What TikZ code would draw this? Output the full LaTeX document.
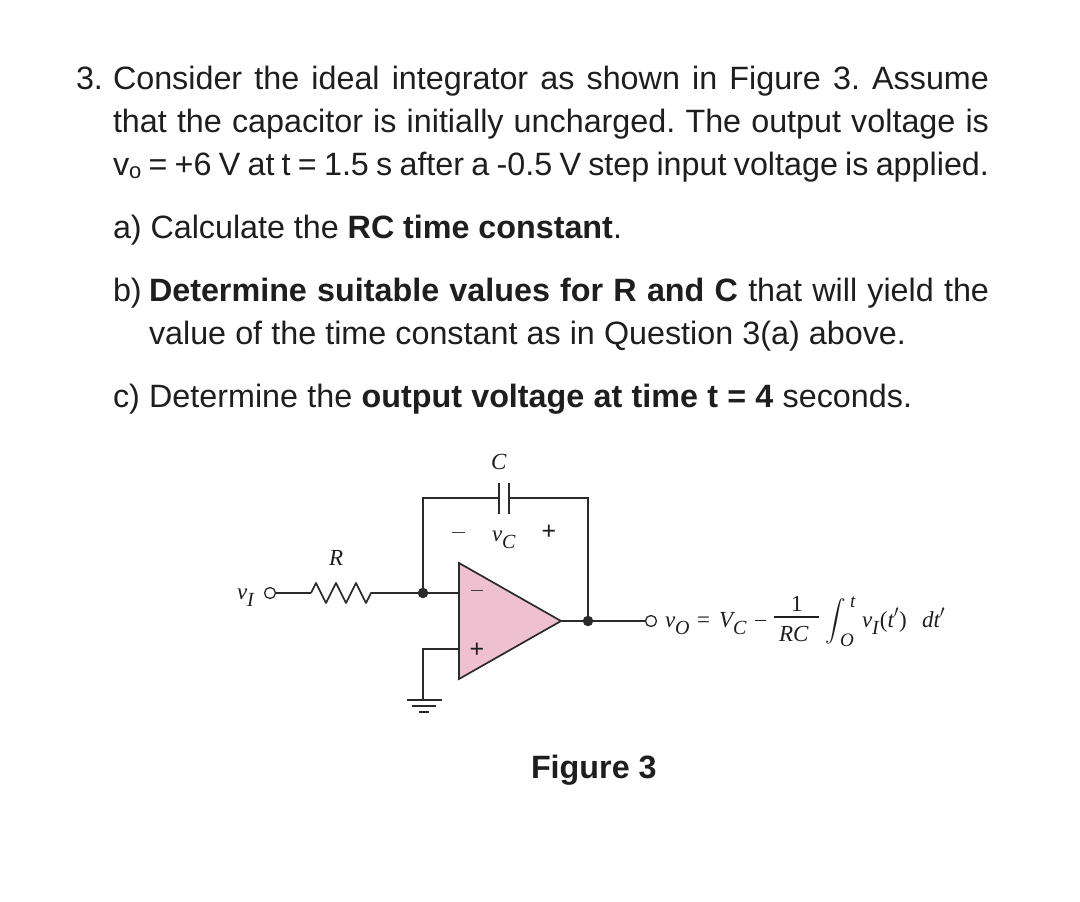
\documentclass[tikz,border=0pt]{standalone}
\usepackage{fontspec}
\setmainfont{Liberation Sans}
\newfontfamily\ser{Liberation Serif}
\definecolor{ink}{HTML}{1E1E1E}
\definecolor{wire}{HTML}{2A2A2A}
\definecolor{pinkfill}{HTML}{EFC1D0}
\newcommand{\lin}[2]{\makebox[#1][s]{#2}}
\newcommand{\sbs}[1]{\raisebox{-0.32em}{\fontsize{20}{22}\selectfont #1}}
\tikzset{
  x=1pt,y=-1pt,
  para/.style={anchor=base west,inner sep=0pt,outer sep=0pt,text=ink,font=\fontsize{32.3}{36}\selectfont\frenchspacing},
  lab/.style={anchor=base west,inner sep=0pt,outer sep=0pt,text=ink,font=\ser\itshape\fontsize{23}{26}\selectfont},
  upr/.style={anchor=base west,inner sep=0pt,outer sep=0pt,text=ink,font=\ser\fontsize{23}{26}\selectfont},
  conn/.style={draw=wire,line width=1.7pt,line join=miter},
  dotn/.style={circle,fill=wire,draw=none,minimum size=10.5pt,inner sep=0pt},
  term/.style={circle,fill=white,draw=wire,line width=1.3pt,minimum size=11pt,inner sep=0pt},
  sign/.style={inner sep=0pt,text=ink,font=\fontsize{25}{27}\selectfont}
}
\begin{document}
\begin{tikzpicture}
\useasboundingbox[fill=white] (0,0) rectangle (1080,902);
% text
\node[para] (num) at (76,89) {3.};
\node[para] (l1) at (113,89) {\lin{876pt}{Consider the ideal integrator as shown in Figure 3. Assume}};
\node[para] (l2) at (113,132) {\lin{876pt}{that the capacitor is initially uncharged. The output voltage is}};
\node[para] (l3) at (113,175) {\lin{876pt}{v\raisebox{-0.12em}{\fontsize{22}{24}\selectfont o} = +6 V at t = 1.5 s after a -0.5 V step input voltage is applied.}};
\node[para] (a) at (113,238) {\lin{509pt}{a) Calculate the \textbf{RC time constant}.}};
\node[para] (b) at (113,301) {b)};
\node[para] (b1) at (149,301) {\lin{840pt}{\textbf{Determine suitable values for R and C} that will yield the}};
\node[para] (b2) at (149,344) {\lin{757pt}{value of the time constant as in Question 3(a) above.}};
\node[para] (c) at (113,407) {\lin{799pt}{c) Determine the \textbf{output voltage at time t = 4} seconds.}};
\node[para] (fig) at (531,778) {\textbf{Figure 3}};
% op-amp
\coordinate (tl) at (459,563);
\coordinate (bl) at (459,679);
\coordinate (tip) at (561,621);
\fill[pinkfill] (tl) -- (tip) -- (bl) -- cycle;
\draw[conn,line join=miter] (tl) -- (tip) -- (bl) -- cycle;
\node[sign] (minus) at (477,594) {\color{black!75}\rule[0.25em]{12pt}{1.2pt}};
\node[sign] (plus) at (477,650) {+};
% junctions and terminals
\node[term] (vi) at (270,593) {};
\node[dotn] (jin) at (423,593) {};
\node[dotn] (jout) at (588,621) {};
\node[term] (vo) at (651,621) {};
\coordinate (inm) at (459,593);
\coordinate (inp) at (459,649);
\coordinate (rl) at (311,593);
\coordinate (rr) at (373,593);
\coordinate (tlc) at (423,498);
\coordinate (trc) at (588,498);
\coordinate (cl) at (499,498);
\coordinate (cr) at (509,498);
\coordinate (gndc) at (423,649);
\coordinate (gnd) at (423,700);
% wires
\draw[conn] (vi) -- (rl);
\draw[conn,line join=round] (rl) -- ++(5,-10) -- ++(10,20) -- ++(10,-20) -- ++(10,20) -- ++(10,-20) -- ++(10,20) -- ++(5,-10) -- (rr);
\draw[conn] (rr) -- (jin);
\draw[conn] (jin) -- (inm);
\draw[conn] (jin) -- (tlc) -- (cl);
\draw[conn] (cr) -- (trc) -- (jout);
\draw[conn] (tip) -- (jout);
\draw[conn] (jout) -- (vo);
\draw[conn] (inp) -- (gndc) -- (gnd);
% capacitor plates
\draw[conn,line width=2pt] (499,483) -- (499,514);
\draw[conn,line width=2pt] (509,483) -- (509,514);
% ground
\draw[conn,line width=2.2pt] (407,700) -- (442,700);
\draw[conn,line width=2.2pt] (412,706) -- (436,706);
\draw[conn,line width=2.2pt] (419,712) -- (429,712);
% circuit labels
\node[lab] (lc) at (491,469) {C};
\node[lab] (lr) at (329,565) {R};
\node[lab] (lvi) at (237,599) {v\sbs{I}};
\node[lab] (lvc) at (492,541) {v\sbs{C}};
\node[sign] (mc) at (458,536) {\color{black!75}\rule[0.25em]{13pt}{1.2pt}};
\node[sign] (pc) at (549,532) {+};
% formula
\node[lab] (vout) at (665,627) {v\sbs{O}};
\node[upr] (eq) at (697,627) {=};
\node[lab] (vc) at (719,627) {V\sbs{C}};
\node[upr] (mn) at (755,627) {\rule[0.25em]{11pt}{0.8pt}};
\node[upr] (one) at (791,611) {1};
\coordinate (bl1) at (774,617);
\coordinate (bl2) at (819,617);
\draw[draw=ink,line width=1.1pt] (bl1) -- (bl2);
\node[lab] (rc) at (779,641) {RC};
\node[scale=2.05,inner sep=0pt,text=ink] (int) at (836,621) {$\displaystyle\int$};
\node[lab,font=\ser\itshape\fontsize{19}{20}\selectfont] (t) at (850,607) {t};
\node[lab,font=\ser\itshape\fontsize{19}{20}\selectfont] (o) at (840,646) {O};
\node[lab] (vit) at (862,627) {v\sbs{I}\kern1pt{\upshape(}t{\upshape$'$)}};
\node[lab] (dt) at (922,627) {dt$'$};
\end{tikzpicture}
\end{document}
